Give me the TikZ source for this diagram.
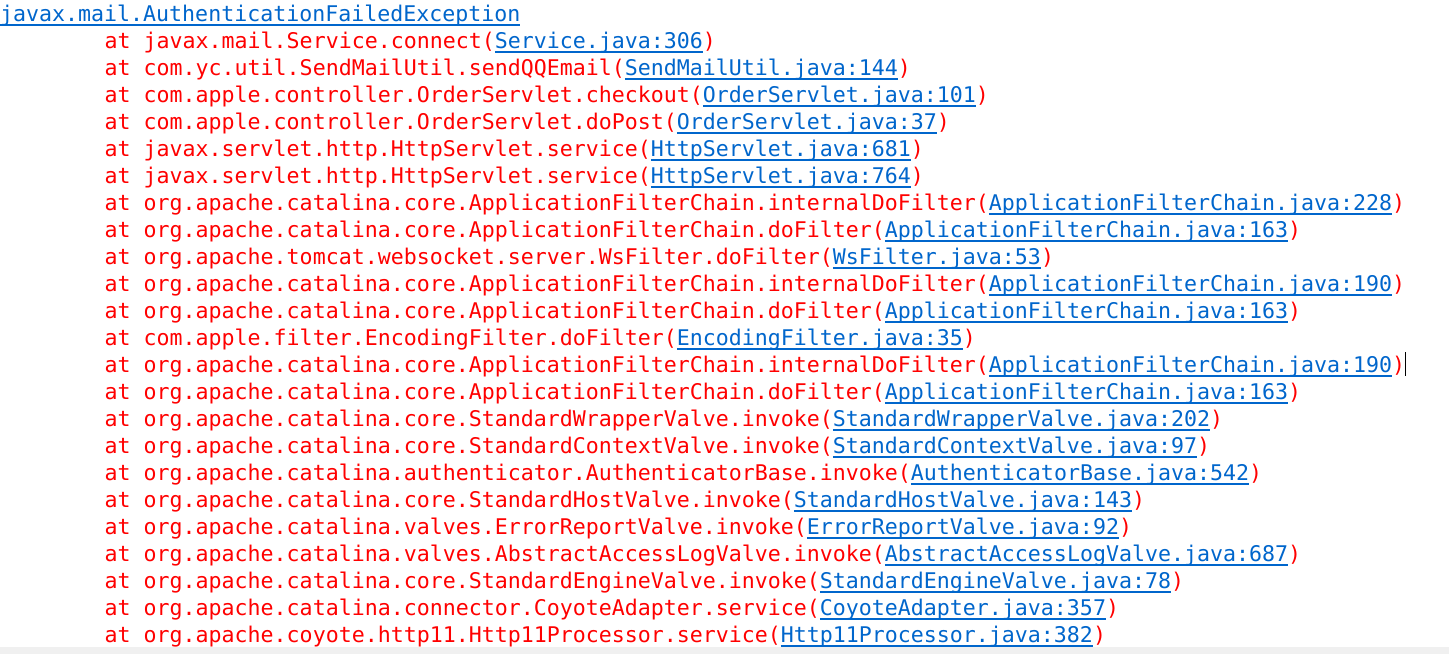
\documentclass[tikz,border=0pt]{standalone}
\usepackage{fontspec}
\setmonofont{DejaVu Sans Mono}
\definecolor{linkblue}{RGB}{0,102,204}
\definecolor{errred}{RGB}{255,0,0}
\definecolor{strip}{RGB}{240,240,240}
\newcommand{\lnk}[1]{{\color{linkblue}\setbox0\hbox{#1}\rlap{\rule[-4.5pt]{\wd0}{1.4pt}}\box0}}
\tikzset{tline/.style={anchor=base west,inner sep=0pt,font=\ttfamily\fontsize{21.6pt}{27pt}\selectfont,text=errred}}
\begin{document}
\begin{tikzpicture}[x=1pt,y=1pt]
\useasboundingbox (0,0) rectangle (1449,-654);
\fill[white] (0,0) rectangle (1449,-654);
\fill[strip] (0,-647) rectangle (1449,-654);
\node[tline] (l0) at (0,-21) {\lnk{javax.mail.AuthenticationFailedException}};
\foreach \t [count=\i] in {
{at javax.mail.Service.connect(\lnk{Service.java:306})},
{at com.yc.util.SendMailUtil.sendQQEmail(\lnk{SendMailUtil.java:144})},
{at com.apple.controller.OrderServlet.checkout(\lnk{OrderServlet.java:101})},
{at com.apple.controller.OrderServlet.doPost(\lnk{OrderServlet.java:37})},
{at javax.servlet.http.HttpServlet.service(\lnk{HttpServlet.java:681})},
{at javax.servlet.http.HttpServlet.service(\lnk{HttpServlet.java:764})},
{at org.apache.catalina.core.ApplicationFilterChain.internalDoFilter(\lnk{ApplicationFilterChain.java:228})},
{at org.apache.catalina.core.ApplicationFilterChain.doFilter(\lnk{ApplicationFilterChain.java:163})},
{at org.apache.tomcat.websocket.server.WsFilter.doFilter(\lnk{WsFilter.java:53})},
{at org.apache.catalina.core.ApplicationFilterChain.internalDoFilter(\lnk{ApplicationFilterChain.java:190})},
{at org.apache.catalina.core.ApplicationFilterChain.doFilter(\lnk{ApplicationFilterChain.java:163})},
{at com.apple.filter.EncodingFilter.doFilter(\lnk{EncodingFilter.java:35})},
{at org.apache.catalina.core.ApplicationFilterChain.internalDoFilter(\lnk{ApplicationFilterChain.java:190})},
{at org.apache.catalina.core.ApplicationFilterChain.doFilter(\lnk{ApplicationFilterChain.java:163})},
{at org.apache.catalina.core.StandardWrapperValve.invoke(\lnk{StandardWrapperValve.java:202})},
{at org.apache.catalina.core.StandardContextValve.invoke(\lnk{StandardContextValve.java:97})},
{at org.apache.catalina.authenticator.AuthenticatorBase.invoke(\lnk{AuthenticatorBase.java:542})},
{at org.apache.catalina.core.StandardHostValve.invoke(\lnk{StandardHostValve.java:143})},
{at org.apache.catalina.valves.ErrorReportValve.invoke(\lnk{ErrorReportValve.java:92})},
{at org.apache.catalina.valves.AbstractAccessLogValve.invoke(\lnk{AbstractAccessLogValve.java:687})},
{at org.apache.catalina.core.StandardEngineValve.invoke(\lnk{StandardEngineValve.java:78})},
{at org.apache.catalina.connector.CoyoteAdapter.service(\lnk{CoyoteAdapter.java:357})},
{at org.apache.coyote.http11.Http11Processor.service(\lnk{Http11Processor.java:382})}}
{\node[tline] (l\i) at (104.5,{-21-27*\i}) {\t};}
\draw[black,line width=1pt] (1405,-352) -- (1405,-376);
\end{tikzpicture}
\end{document}
